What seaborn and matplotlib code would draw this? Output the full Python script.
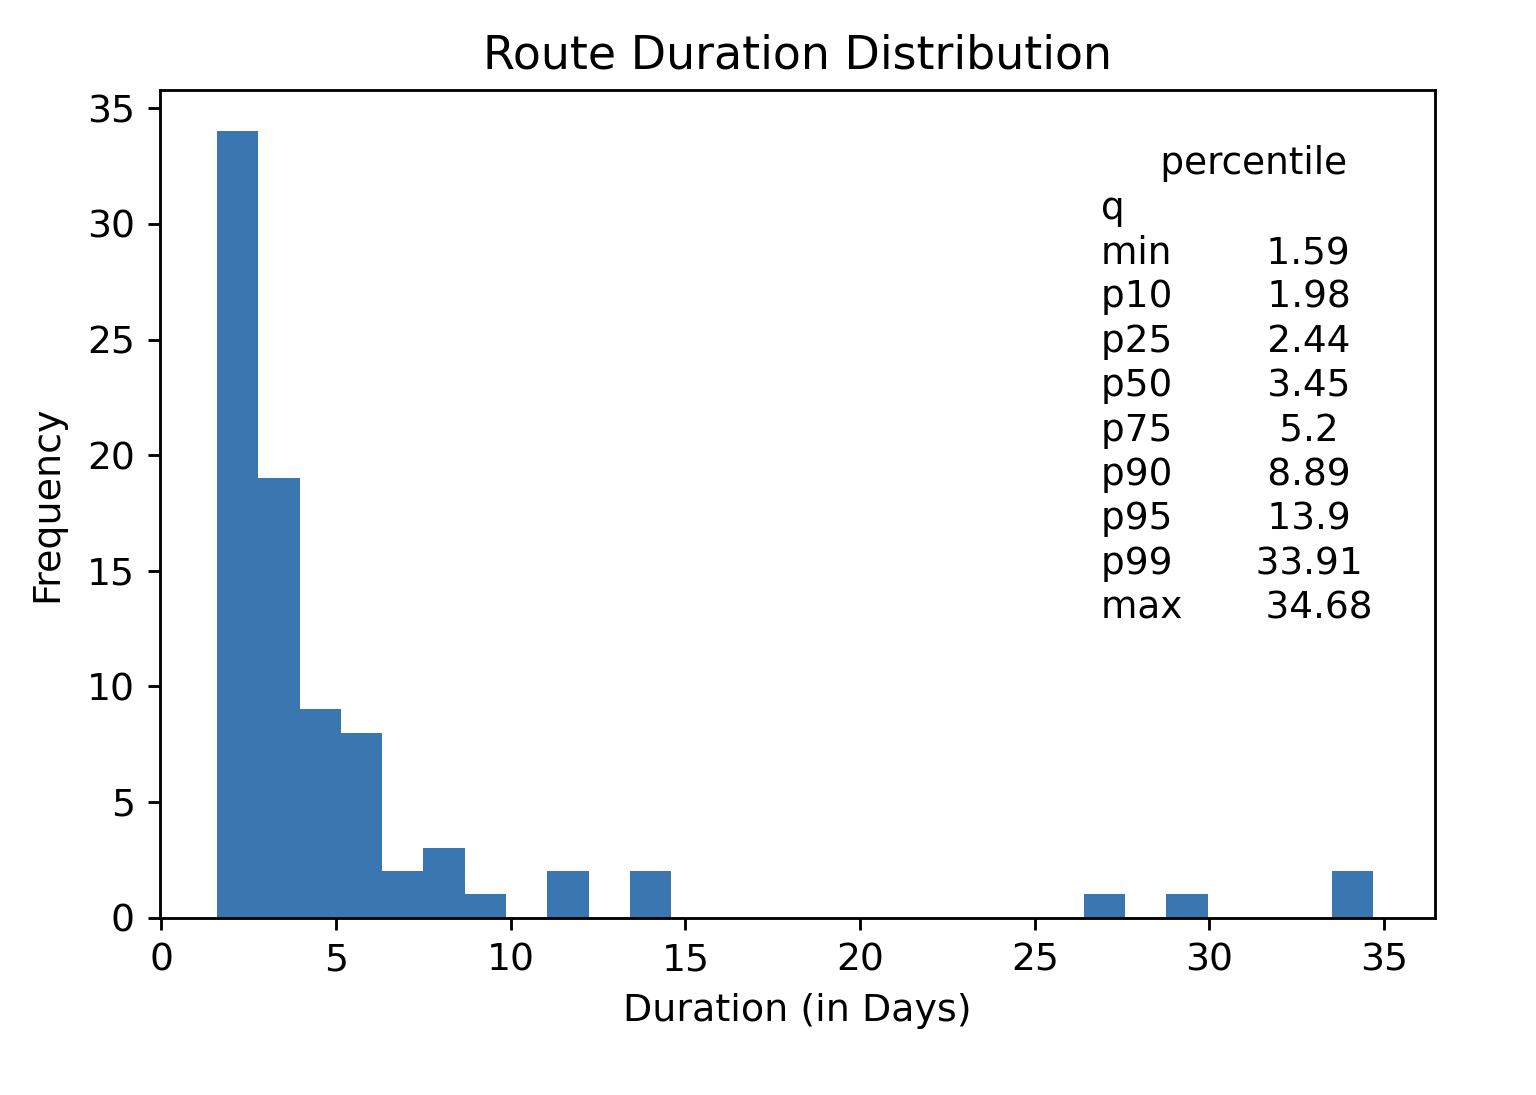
import numpy as np
import pandas as pd
import matplotlib
matplotlib.use('Agg')
import matplotlib.pyplot as plt
import seaborn as sns

# Histogram: 28 equal bins between min and max duration
dur_min = 1.59
dur_max = 34.68
bin_counts = [34, 19, 9, 8, 2, 3, 1, 0, 2, 0, 2, 0, 0, 0,
              0, 0, 0, 0, 0, 0, 0, 1, 0, 1, 0, 0, 0, 2]

# Percentile summary table shown in the plot
q_labels = ['min', 'p10', 'p25', 'p50', 'p75', 'p90', 'p95', 'p99', 'max']
q_values = [1.59, 1.98, 2.44, 3.45, 5.2, 8.89, 13.9, 33.91, 34.68]

edges = np.linspace(dur_min, dur_max, len(bin_counts) + 1)
centers = (edges[:-1] + edges[1:]) / 2
hist_df = pd.DataFrame({'duration': centers, 'count': bin_counts})

pct = pd.DataFrame({'percentile': q_values}, index=pd.Index(q_labels, name='q'))

plt.rcParams['font.family'] = ['DejaVu Sans']
fig = plt.figure(figsize=(6, 1095 / 256), dpi=256)
ax = fig.add_axes([0.104, 0.162, 0.830, 0.756])

sns.histplot(data=hist_df, x='duration', weights='count',
             bins=len(bin_counts), binrange=(dur_min, dur_max),
             color='#3a76af', alpha=1, linewidth=0, ax=ax)

ax.set_xlim(-0.05, 36.45)
ax.set_ylim(0, 35.8)
ax.set_xticks(range(0, 36, 5))
ax.set_yticks(range(0, 36, 5))
ax.tick_params(labelsize=10.6)
ax.set_title('Route Duration Distribution', fontsize=12.9)
ax.set_xlabel('Duration (in Days)', fontsize=10.7)
ax.set_ylabel('Frequency', fontsize=10.7, labelpad=6)

ax.text(26.9, 33.4, pct.to_string(float_format=lambda v: f'{v:g}'),
        va='top', ha='left', fontsize=10.5, linespacing=1.255)

fig.savefig('out.png', dpi=256)
